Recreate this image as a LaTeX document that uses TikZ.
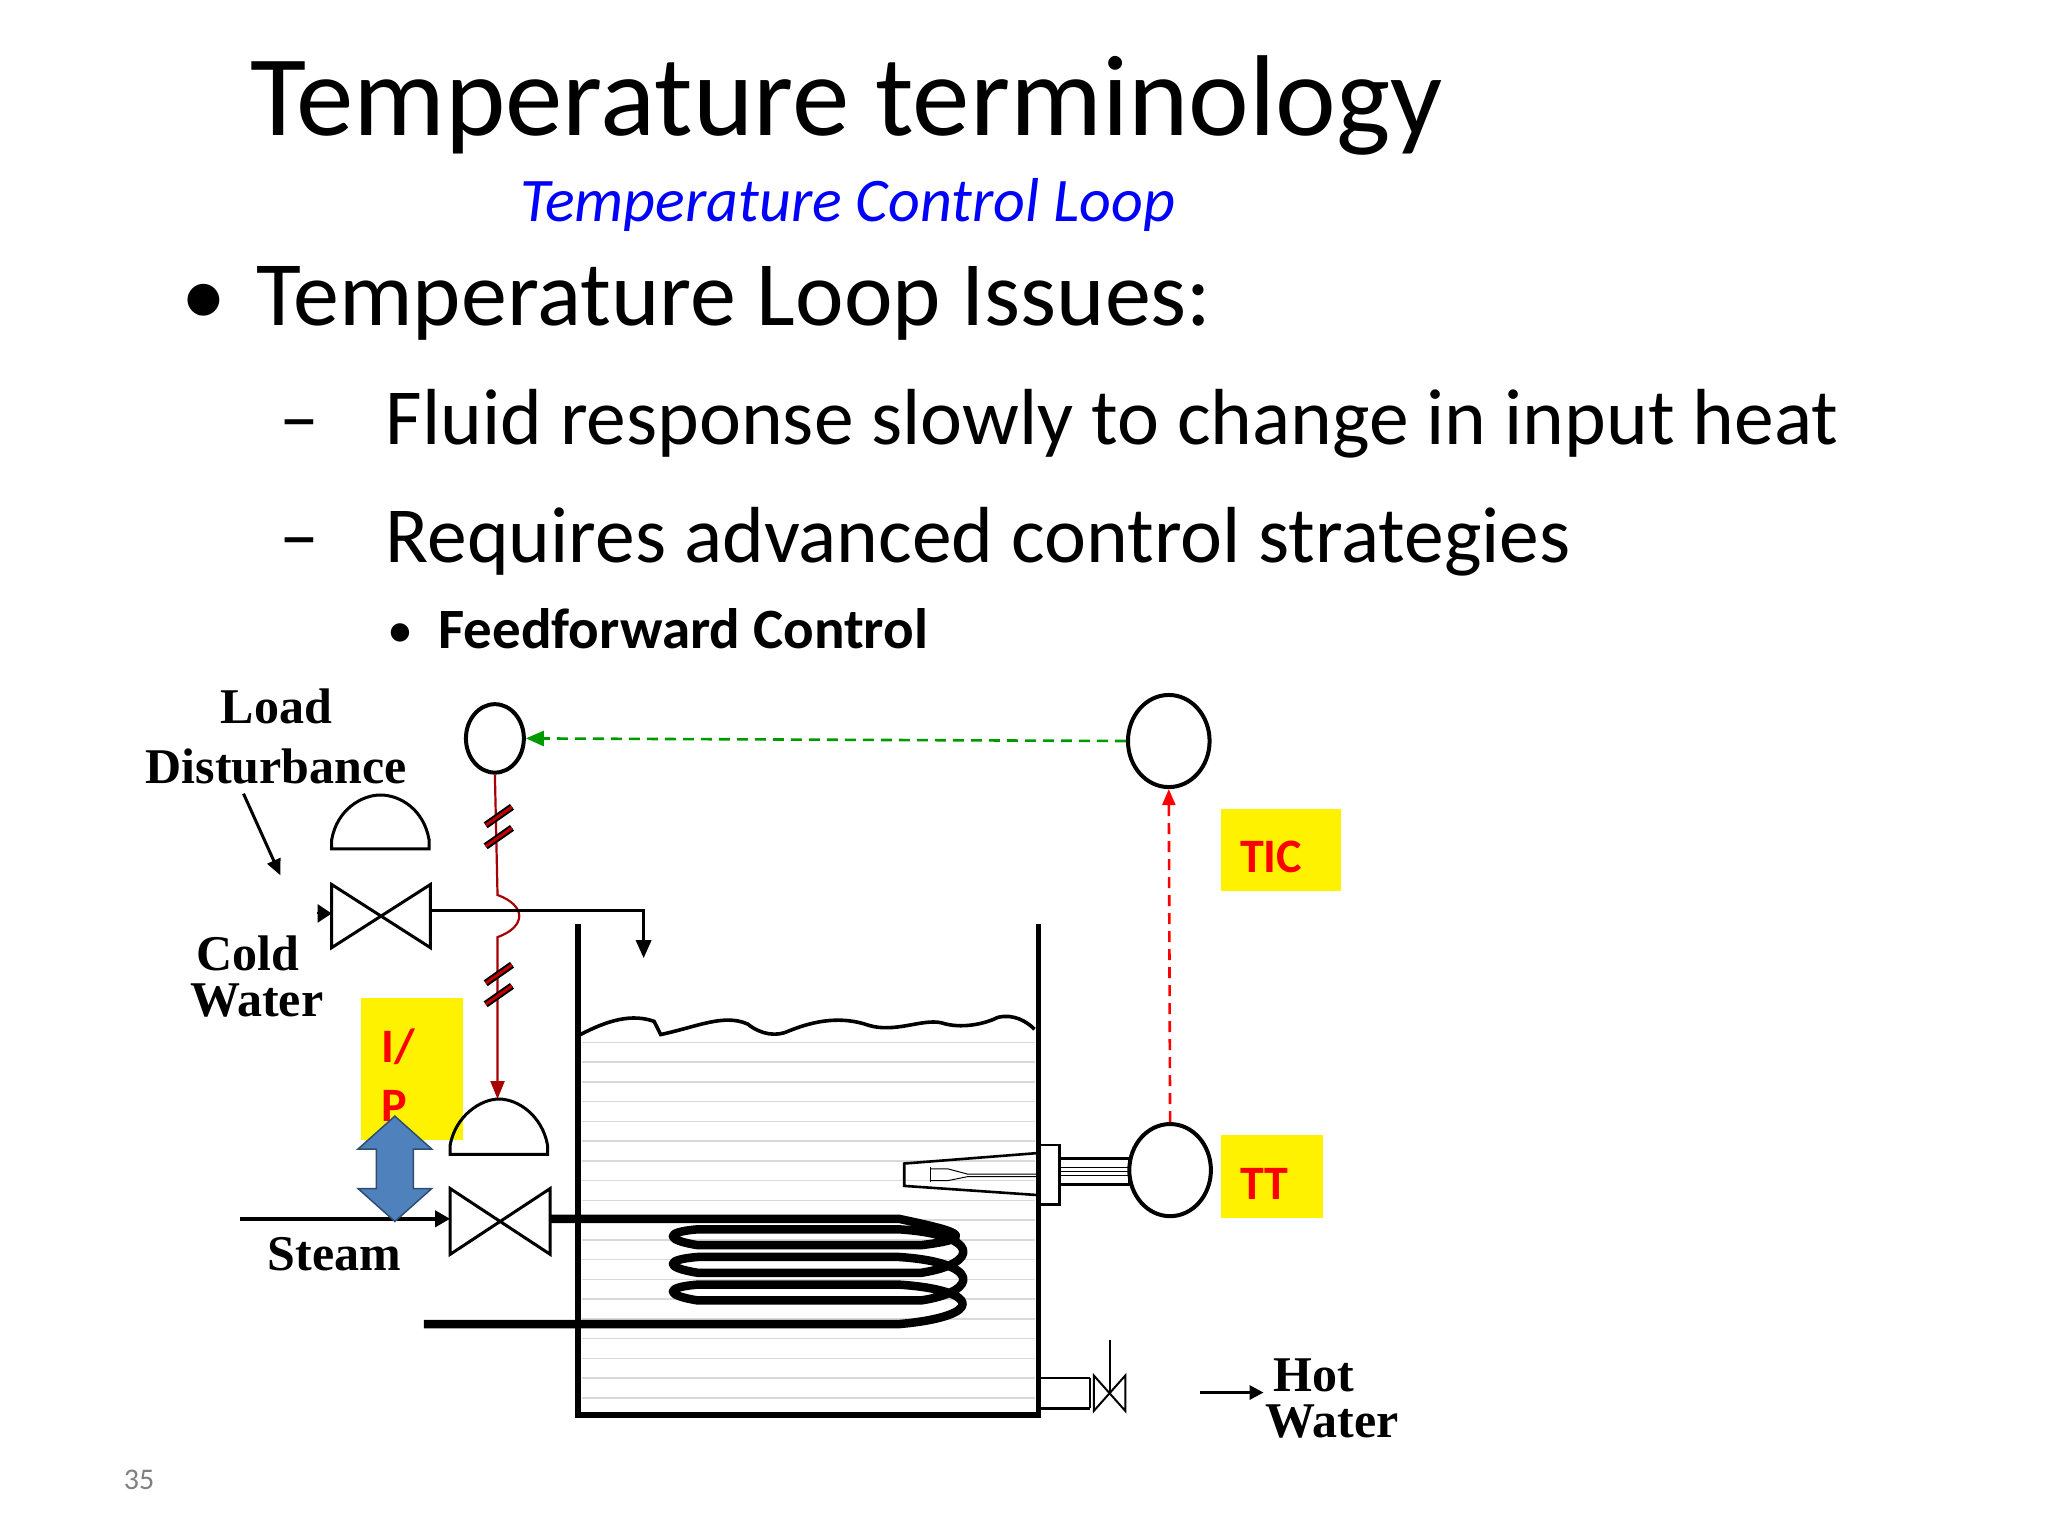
\documentclass[tikz,border=0pt]{standalone}
\usepackage{fontspec}
\setmainfont{Carlito}
\newfontfamily\tms{Liberation Serif}
\usetikzlibrary{arrows.meta,shapes.geometric}
\definecolor{steel}{HTML}{4F81BD}
\begin{document}
\begin{tikzpicture}[x=1.3162pt,y=-1.3162pt,
  lbl/.style={font=\tms\bfseries\fontsize{50pt}{52pt}\selectfont,inner sep=0,anchor=base},
  rtxt/.style={font=\bfseries\fontsize{48pt}{50pt}\selectfont,text=red,inner sep=0,anchor=base west},
  thick pipe/.style={line width=8.5pt},
  inst/.style={draw,line width=4pt,ellipse,inner sep=0},
  vlv/.style={line width=3pt},
  sig/.style={line width=2.6pt,dash pattern=on 11pt off 7pt}]
\useasboundingbox (0,0) rectangle (1556,1167);
% texts
\node[inner sep=0,anchor=base west,font=\fontsize{115pt}{120pt}\selectfont] (t1) at (190,103) {Temperature terminology};
\node[inner sep=0,anchor=base west,font=\itshape\fontsize{62pt}{64pt}\selectfont,text=blue] (t2) at (395,168) {Temperature Control Loop};
\node[inner sep=0,anchor=base west,font=\fontsize{90pt}{92pt}\selectfont] (b0) at (138,247) {\textbullet};
\node[inner sep=0,anchor=base west,font=\fontsize{92pt}{94pt}\selectfont] (t3) at (195,247) {Temperature Loop Issues:};
\node[inner sep=0,anchor=base west,font=\fontsize{80pt}{82pt}\selectfont] (d1) at (212,338) {–};
\node[inner sep=0,anchor=base west,font=\fontsize{79.5pt}{82pt}\selectfont] (t4) at (293,338) {Fluid response slowly to change in input heat};
\node[inner sep=0,anchor=base west,font=\fontsize{80pt}{82pt}\selectfont] (d2) at (212,427) {–};
\node[inner sep=0,anchor=base west,font=\fontsize{79.5pt}{82pt}\selectfont] (t5) at (293,427) {Requires advanced control strategies};
\node[inner sep=0,anchor=base west,font=\fontsize{52pt}{54pt}\selectfont] (b2) at (294,492) {\textbullet};
\node[inner sep=0,anchor=base west,font=\bfseries\fontsize{57pt}{58pt}\selectfont] (t6) at (333,493) {Feedforward Control};
\node[inner sep=0,anchor=base west,font=\fontsize{30pt}{30pt}\selectfont,text=gray] (pg) at (94,1132) {35};
% diagram labels
\node[lbl] (ld1) at (210,550) {Load};
\node[lbl] (ld2) at (210,595) {Disturbance};
\node[lbl] (cw1) at (188,737) {Cold};
\node[lbl] (cw2) at (195,772) {Water};
\node[lbl] (st) at (254,965) {Steam};
\node[lbl] (hw1) at (998,1057) {Hot};
\node[lbl] (hw2) at (1012,1092) {Water};
% yellow boxes
\fill[yellow] (928,615) rectangle (1019,677);
\node[rtxt] (tic) at (942,663) {TIC};
\fill[yellow] (928,862) rectangle (1005,925);
\node[rtxt] (tt) at (942,911) {TT};
\fill[yellow] (274,758) rectangle (352,866);
\node[rtxt] (ip1) at (290,807) {I/};
\node[rtxt] (ip2) at (290,852) {P};
% tank water lines
\foreach \yy in {792,807,...,1065} \draw[gray!30,line width=1.4pt] (442,\yy) -- (786,\yy);
\fill[white] (441,770) -- (441,784) .. controls (470,772) and (495,770) .. (520,776) .. controls (540,781) and (560,770) .. (580,787) .. controls (610,783) and (635,770) .. (665,778) .. controls (690,785) and (720,770) .. (760,775) -- (786,782) -- (786,770) -- cycle;
\draw[line width=3.6pt] (441,786) .. controls (462,775) and (480,770) .. (497,776) -- (502,786) .. controls (530,780) and (550,770) .. (568,778) .. controls (578,786) and (590,788) .. (600,783) .. controls (620,775) and (640,772) .. (660,779) .. controls (680,785) and (700,774) .. (715,777) .. controls (730,782) and (748,778) .. (758,773) .. controls (770,770) and (780,776) .. (786,782);
\draw[line width=5.5pt] (439,702) -- (439,1075) -- (789,1075) -- (789,702);
% instruments
\node[inst,minimum width=44*1.3162pt,minimum height=52*1.3162pt] (ff) at (376,561) {};
\node[inst,minimum width=62*1.3162pt,minimum height=70*1.3162pt] (ticc) at (888,563) {};
\node[inst,minimum width=62*1.3162pt,minimum height=70*1.3162pt] (ttc) at (889,889) {};
\draw[green!60!black,sig,-{Triangle[length=18pt,width=15pt]}] (ticc.west) -- (ff.east);
\draw[red,sig,-{Triangle[length=16pt,width=13pt]}] (ttc.north) -- (ticc.south);
% red signal line
\coordinate (rs) at (378,680);
\coordinate (re) at (378,712);
\coordinate (ad) at (378,835);
\draw[red!65!black,line width=2.2pt,-{Triangle[length=18pt,width=14pt]}] (ff.south) -- (rs) .. controls (400,688) and (400,704) .. (re) -- (ad);
\foreach \yy in {620,636,740,756} \draw[line width=7pt,black] (369,\yy+7) -- (389,\yy-7);
\foreach \yy in {620,636,740,756} \draw[line width=3pt,red!75!black] (369,\yy+7) -- (389,\yy-7);
% cold water valve
\draw[vlv] (252,645) -- (252,638) .. controls (256,615) and (275,604) .. (289,604) .. controls (304,604) and (322,615) .. (326,638) -- (326,645) -- cycle;
\draw[vlv] (252,672) -- (327,720) -- (327,672) -- (252,720) -- cycle;
\draw[-{Triangle[length=14pt,width=18pt]},line width=2pt] (241,694) -- (252,694);
\coordinate (cwd) at (489,692);
\coordinate (cwe) at (489,728);
\draw[line width=3.2pt,-{Triangle[length=18pt,width=15pt]}] (327,692) -- (cwd) -- (cwe);
\draw[line width=3pt,-{Triangle[length=16pt,width=14pt]}] (185,603) -- (213,665);
% steam valve
\draw[vlv] (342,877) -- (342,870) .. controls (346,848) and (365,835) .. (379,835) .. controls (394,835) and (412,848) .. (416,870) -- (416,877) -- cycle;
\draw[vlv] (342,903) -- (418,953) -- (418,903) -- (342,953) -- cycle;
\draw[line width=4pt,-{Triangle[length=15pt,width=16pt]}] (182,926) -- (342,926);
% blue arrow
\fill[steel,draw=steel!60!black,line width=1.5pt] (300,848) -- (328,873) -- (314,873) -- (314,903) -- (328,903) -- (300,928) -- (272,903) -- (286,903) -- (286,873) -- (272,873) -- cycle;
% coil
\draw[thick pipe,line join=round] (418,926) -- (683,926) .. controls (720,934) and (750,940) .. (700,946) -- (530,946) .. controls (505,942) and (505,936) .. (530,934) -- (683,934) .. controls (745,938) and (745,960) .. (700,967) -- (530,967) .. controls (505,963) and (505,957) .. (530,955) -- (683,955) .. controls (745,959) and (745,981) .. (700,988) -- (530,988) .. controls (505,984) and (505,978) .. (530,976) -- (683,976) .. controls (745,980) and (750,1000) .. (683,1006) -- (322,1006);
% sensor
\draw[line width=2.6pt] (687,884) -- (789,876) -- (789,908) -- (687,901) -- cycle;
\draw[line width=1pt] (707,887) -- (707,898);
\draw[line width=1pt] (707,888) -- (720,888) -- (735,892) -- (789,892);
\draw[line width=1pt] (707,897) -- (720,897) -- (735,894) -- (789,894);
\draw[line width=2.6pt] (789,870) rectangle (805,915);
\draw[line width=2.6pt] (805,880) rectangle (858,900);
\draw[line width=0.9pt] (805,887) -- (858,887) (805,890) -- (858,890) (805,893) -- (858,893);
% outlet
\draw[line width=2.6pt] (789,1047) -- (828,1047) (789,1070) -- (828,1070) (828,1047) -- (828,1070);
\draw[line width=2pt] (831,1045) -- (855,1072) -- (855,1045) -- (831,1072) -- cycle;
\draw[line width=2pt] (843,1018) -- (843,1058);
\coordinate (hwa) at (912,1058);
\coordinate (hwb) at (960,1058);
\draw[line width=3pt,-{Triangle[length=14pt,width=14pt]}] (hwa) -- (hwb);
\end{tikzpicture}
\end{document}
